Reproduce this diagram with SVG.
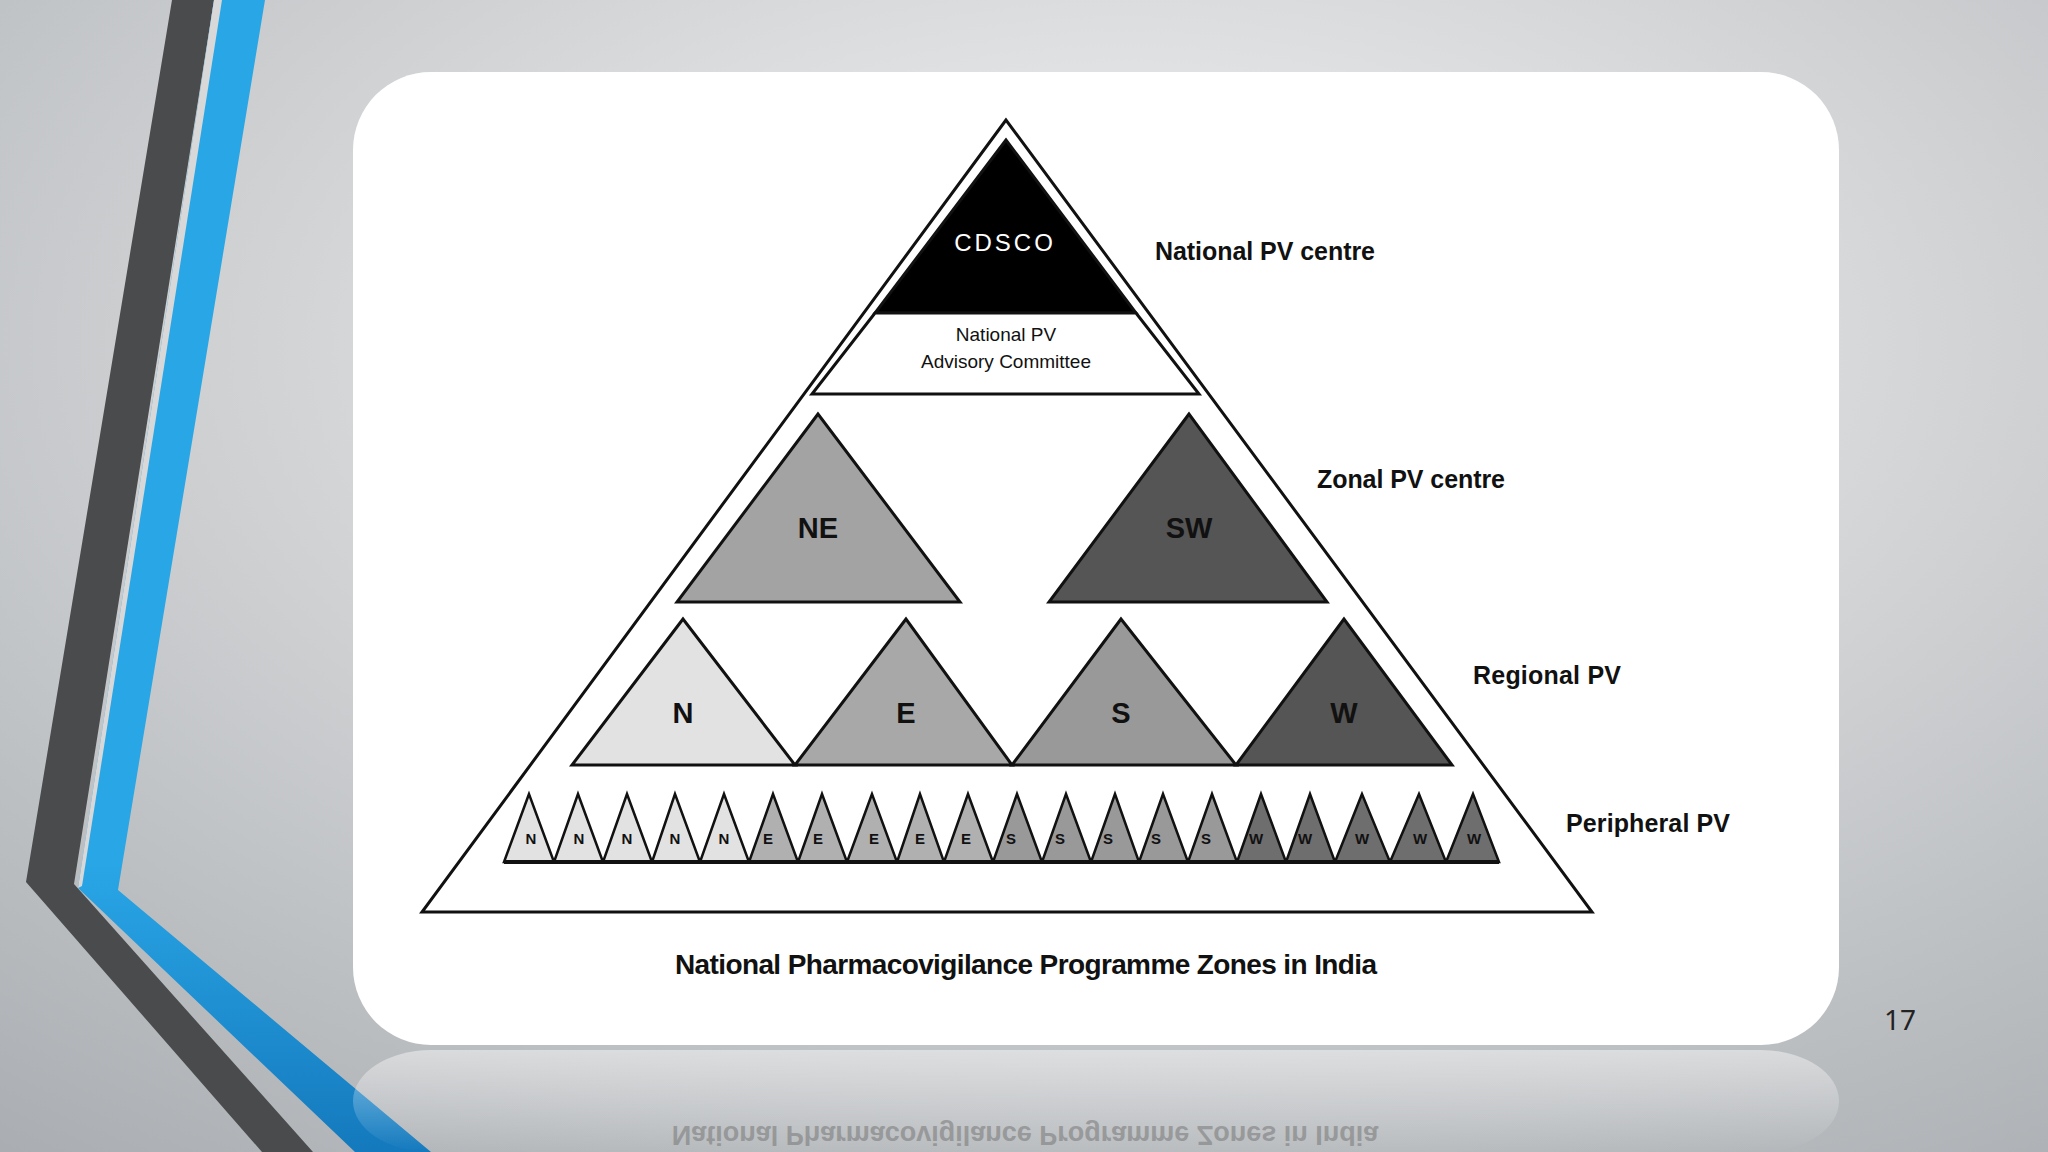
<svg xmlns="http://www.w3.org/2000/svg" width="2048" height="1152" viewBox="0 0 2048 1152">
<defs>
<radialGradient id="bg" cx="0.55" cy="0.3" r="0.9"><stop offset="0" stop-color="#f4f4f4"/><stop offset="1" stop-color="#a9adb1"/></radialGradient>
<linearGradient id="refl" x1="0" y1="0" x2="0" y2="1"><stop offset="0" stop-color="#fff" stop-opacity="0.45"/><stop offset="1" stop-color="#fff" stop-opacity="0"/></linearGradient>
<linearGradient id="blue" x1="0" y1="0" x2="0" y2="1"><stop offset="0.75" stop-color="#29a6e6"/><stop offset="1" stop-color="#1479bd"/></linearGradient>
<style>
.t{font-family:"Liberation Sans",Arial,sans-serif;fill:#111;font-weight:bold}
.o{stroke:#111;stroke-width:3;stroke-linejoin:miter}
.p{stroke:#111;stroke-width:2.5}
.pl{font-family:"Liberation Sans",Arial,sans-serif;font-weight:bold;font-size:15px;fill:#111;text-anchor:middle}
</style>
</defs>
<rect width="2048" height="1152" fill="url(#bg)"/>
<polygon points="172,0 214,0 74,884 313,1152 262,1152 26,882" fill="#4a4b4d"/>
<polygon points="214,0 265,0 118,890 431,1152 355,1152 78,888" fill="url(#blue)"/>
<polygon points="214,0 222,0 82,886 78,888" fill="#d8d8d8"/>
<rect x="353" y="1050" width="1486" height="102" rx="78" fill="url(#refl)"/>
<text x="1025" y="1126" class="t" font-size="27" text-anchor="middle" transform="translate(0,2252) scale(1,-1)" style="fill:#777;opacity:0.55">National Pharmacovigilance Programme Zones in India</text>
<rect x="353" y="72" width="1486" height="973" rx="78" fill="#fff"/>
<g id="outer"><polygon points="1006,120 422,912 1592,912" fill="#fff" class="o"/></g>
<g id="cdsco"><polygon points="1006,140 875,313 1136,313" fill="#000" class="o"/><text x="1005" y="251" class="t" font-size="24" style="fill:#fff;letter-spacing:3px;font-weight:normal" text-anchor="middle">CDSCO</text></g>
<g id="advisory"><polygon points="875,313 1136,313 1199,394 812,394" fill="#fff" class="o"/><text x="1006" y="341" font-family="Liberation Sans,Arial,sans-serif" font-size="19" text-anchor="middle" fill="#111">National PV</text><text x="1006" y="368" font-family="Liberation Sans,Arial,sans-serif" font-size="19" text-anchor="middle" fill="#111">Advisory Committee</text></g>
<g id="NE"><polygon points="818,414 677,602 960,602" fill="#a3a3a3" class="o"/><text x="818" y="538" class="t" font-size="29" text-anchor="middle">NE</text></g>
<g id="SW"><polygon points="1189,414 1049,602 1327,602" fill="#555" class="o"/><text x="1189" y="538" class="t" font-size="29" text-anchor="middle">SW</text></g>
<g id="N"><polygon points="683,619 572,765 795,765" fill="#e2e2e2" class="o"/><text x="683" y="723" class="t" font-size="29" text-anchor="middle">N</text></g>
<g id="E"><polygon points="906,619 795,765 1012,765" fill="#a8a8a8" class="o"/><text x="906" y="723" class="t" font-size="29" text-anchor="middle">E</text></g>
<g id="S"><polygon points="1121,619 1012,765 1236,765" fill="#999" class="o"/><text x="1121" y="723" class="t" font-size="29" text-anchor="middle">S</text></g>
<g id="W"><polygon points="1344,619 1236,765 1452,765" fill="#555" class="o"/><text x="1344" y="723" class="t" font-size="29" text-anchor="middle">W</text></g>
<g id="peripheral">
<g fill="#e2e2e2" class="p">
<polygon points="529,794 504,862 554,862"/><polygon points="578,794 554,862 603,862"/><polygon points="627,794 603,862 652,862"/><polygon points="675,794 652,862 700,862"/><polygon points="724,794 700,862 749,862"/></g>
<g fill="#b0b0b0" class="p">
<polygon points="773,794 749,862 798,862"/><polygon points="822,794 798,862 847,862"/><polygon points="872,794 847,862 897,862"/><polygon points="920,794 897,862 944,862"/><polygon points="968,794 944,862 993,862"/></g>
<g fill="#999" class="p">
<polygon points="1017,794 993,862 1042,862"/><polygon points="1066,794 1042,862 1091,862"/><polygon points="1115,794 1091,862 1139,862"/><polygon points="1163,794 1139,862 1188,862"/><polygon points="1212,794 1188,862 1237,862"/></g>
<g fill="#6e6e6e" class="p">
<polygon points="1261,794 1237,862 1286,862"/><polygon points="1310,794 1286,862 1335,862"/><polygon points="1362,794 1335,862 1390,862"/><polygon points="1419,794 1390,862 1446,862"/><polygon points="1473,794 1446,862 1499,862"/></g>
<line x1="504" y1="862" x2="1499" y2="862" stroke="#111" stroke-width="4"/>
<text class="pl" x="531" y="844">N</text><text class="pl" x="579" y="844">N</text><text class="pl" x="627" y="844">N</text><text class="pl" x="675" y="844">N</text><text class="pl" x="724" y="844">N</text>
<text class="pl" x="768" y="844">E</text><text class="pl" x="818" y="844">E</text><text class="pl" x="874" y="844">E</text><text class="pl" x="920" y="844">E</text><text class="pl" x="966" y="844">E</text>
<text class="pl" x="1011" y="844">S</text><text class="pl" x="1060" y="844">S</text><text class="pl" x="1108" y="844">S</text><text class="pl" x="1156" y="844">S</text><text class="pl" x="1206" y="844">S</text>
<text class="pl" x="1256" y="844">W</text><text class="pl" x="1305" y="844">W</text><text class="pl" x="1362" y="844">W</text><text class="pl" x="1420" y="844">W</text><text class="pl" x="1474" y="844">W</text>
</g>
<g id="labels">
<text x="1155" y="260" class="t" font-size="25" textLength="220">National PV centre</text>
<text x="1317" y="488" class="t" font-size="25" textLength="188">Zonal PV centre</text>
<text x="1473" y="684" class="t" font-size="25" textLength="148">Regional PV</text>
<text x="1566" y="832" class="t" font-size="25" textLength="164">Peripheral PV</text>
<text x="1026" y="974" class="t" font-size="28" text-anchor="middle" textLength="702" style="font-weight:600">National Pharmacovigilance Programme Zones in India</text>
<text x="1900" y="1030" font-family="Noto Sans,sans-serif" font-size="28" fill="#222" text-anchor="middle">17</text>
</g>
</svg>
